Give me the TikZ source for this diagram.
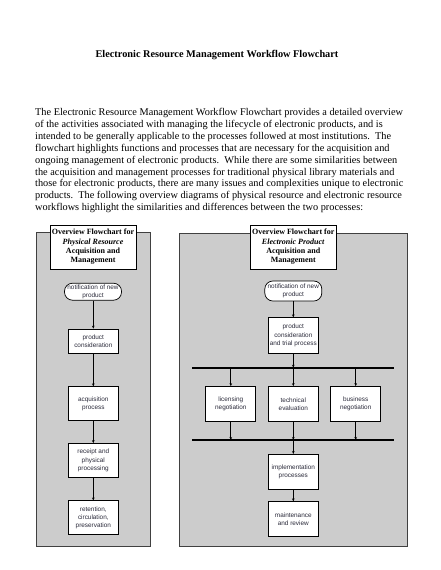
\documentclass[tikz,border=0pt]{standalone}
\usepackage{fontspec}
\setmainfont{Liberation Serif}
\setsansfont{Liberation Sans}
\usetikzlibrary{arrows.meta}
\definecolor{panelgray}{HTML}{CCCCCC}
\definecolor{boxtext}{HTML}{2A2A3A}
\tikzset{
  panel/.style={draw=black!75, line width=0.9pt, fill=panelgray},
  titlebox/.style={draw=black, line width=0.9pt, fill=white, minimum width=86pt, minimum height=44pt, inner sep=0pt, align=center,
    font=\rmfamily\bfseries\fontsize{8}{9.3}\selectfont},
  procbox/.style={draw=black, line width=0.7pt, fill=white, minimum width=50pt, inner sep=0pt, align=center, text=boxtext,
    font=\sffamily\fontsize{6.4}{8.3}\selectfont},
  startbox/.style={procbox, minimum width=57pt, rounded corners=8pt},
  flow/.style={draw=black, line width=0.7pt, -{Stealth[length=3pt,width=2.6pt]}},
  busline/.style={draw=black, line width=1.8pt},
  bodyline/.style={anchor=base west, inner sep=0pt, font=\fontsize{10.3}{12}\selectfont}
}
\begin{document}
\begin{tikzpicture}[x=1pt,y=-1pt]
\useasboundingbox (0,0) rectangle (440,570);
% title
\node[anchor=base, inner sep=0pt, font=\bfseries\fontsize{10.3}{12}\selectfont] (title) at (217,57.5) {Electronic Resource Management Workflow Flowchart};
% body paragraph
\node[bodyline] (l1) at (35,115.7) {The Electronic Resource Management Workflow Flowchart provides a detailed overview};
\node[bodyline] (l2) at (35,127.6) {of the activities associated with managing the lifecycle of electronic products, and is};
\node[bodyline] (l3) at (35,139.4) {intended to be generally applicable to the processes followed at most institutions.\ \ The};
\node[bodyline] (l4) at (35,151.3) {flowchart highlights functions and processes that are necessary for the acquisition and};
\node[bodyline] (l5) at (35,163.2) {ongoing management of electronic products.\ \ While there are some similarities between};
\node[bodyline] (l6) at (35,175.1) {the acquisition and management processes for traditional physical library materials and};
\node[bodyline] (l7) at (35,186.9) {those for electronic products, there are many issues and complexities unique to electronic};
\node[bodyline] (l8) at (35,198.8) {products.\ \ The following overview diagrams of physical resource and electronic resource};
\node[bodyline] (l9) at (35,210.7) {workflows highlight the similarities and differences between the two processes:};
% panels
\path[panel] (36,232.7) rectangle (150.7,546.3);
\path[panel] (179,233) rectangle (407.7,546.7);
% left chart
\node[titlebox] (ltitle) at (93,247) {Overview Flowchart for\\\textit{Physical Resource}\\Acquisition and\\Management};
\node[startbox, minimum height=17pt] (lnotif) at (93,291.7) {notification of new\\product};
\node[procbox, minimum height=24pt] (lcons) at (93.3,341) {product\\consideration};
\node[procbox, minimum height=34pt] (lacq) at (93.3,403.7) {acquisition\\process};
\node[procbox, minimum height=34pt] (lrec) at (93.3,460.5) {receipt and\\physical\\processing};
\node[procbox, minimum height=34pt] (lret) at (93.3,517.8) {retention,\\circulation,\\preservation};
\draw[flow] (lnotif.south -| lcons.north) -- (lcons.north);
\draw[flow] (lcons) -- (lacq);
\draw[flow] (lacq) -- (lrec);
\draw[flow] (lrec) -- (lret);
% right chart
\node[titlebox, minimum width=86.7pt] (rtitle) at (293.3,247) {Overview Flowchart for\\\textit{Electronic Product}\\Acquisition and\\Management};
\node[startbox, minimum height=20pt] (rnotif) at (293.3,291) {notification of new\\product};
\node[procbox, minimum height=35.6pt] (rcons) at (293.3,335.5) {product\\consideration\\and trial process};
\coordinate (b1l) at (192.3,367.7);
\coordinate (b1r) at (394,367.7);
\coordinate (b2l) at (192.3,440);
\coordinate (b2r) at (394,440);
\node[procbox, minimum height=35pt] (lic) at (230.8,404) {licensing\\negotiation};
\node[procbox, minimum height=35pt] (tech) at (293.3,404) {technical\\evaluation};
\node[procbox, minimum height=35pt] (busn) at (355.7,404) {business\\negotiation};
\node[procbox, minimum height=34.7pt] (impl) at (293.3,471.7) {implementation\\processes};
\node[procbox, minimum height=35pt] (maint) at (293.3,519.2) {maintenance\\and review};
\draw[busline] (b1l) -- (b1r);
\draw[busline] (b2l) -- (b2r);
\draw[flow] (rnotif) -- (rcons);
\draw[flow] (rcons.south) -- (rcons.south |- b1l);
\draw[flow] (lic.north |- b1l) -- (lic.north);
\draw[flow] (tech.north |- b1l) -- (tech.north);
\draw[flow] (busn.north |- b1l) -- (busn.north);
\draw[flow] (lic.south) -- (lic.south |- b2l);
\draw[flow] (tech.south) -- (tech.south |- b2l);
\draw[flow] (busn.south) -- (busn.south |- b2l);
\draw[flow] (impl.north |- b2l) -- (impl.north);
\draw[flow] (impl) -- (maint);
\end{tikzpicture}
\end{document}
